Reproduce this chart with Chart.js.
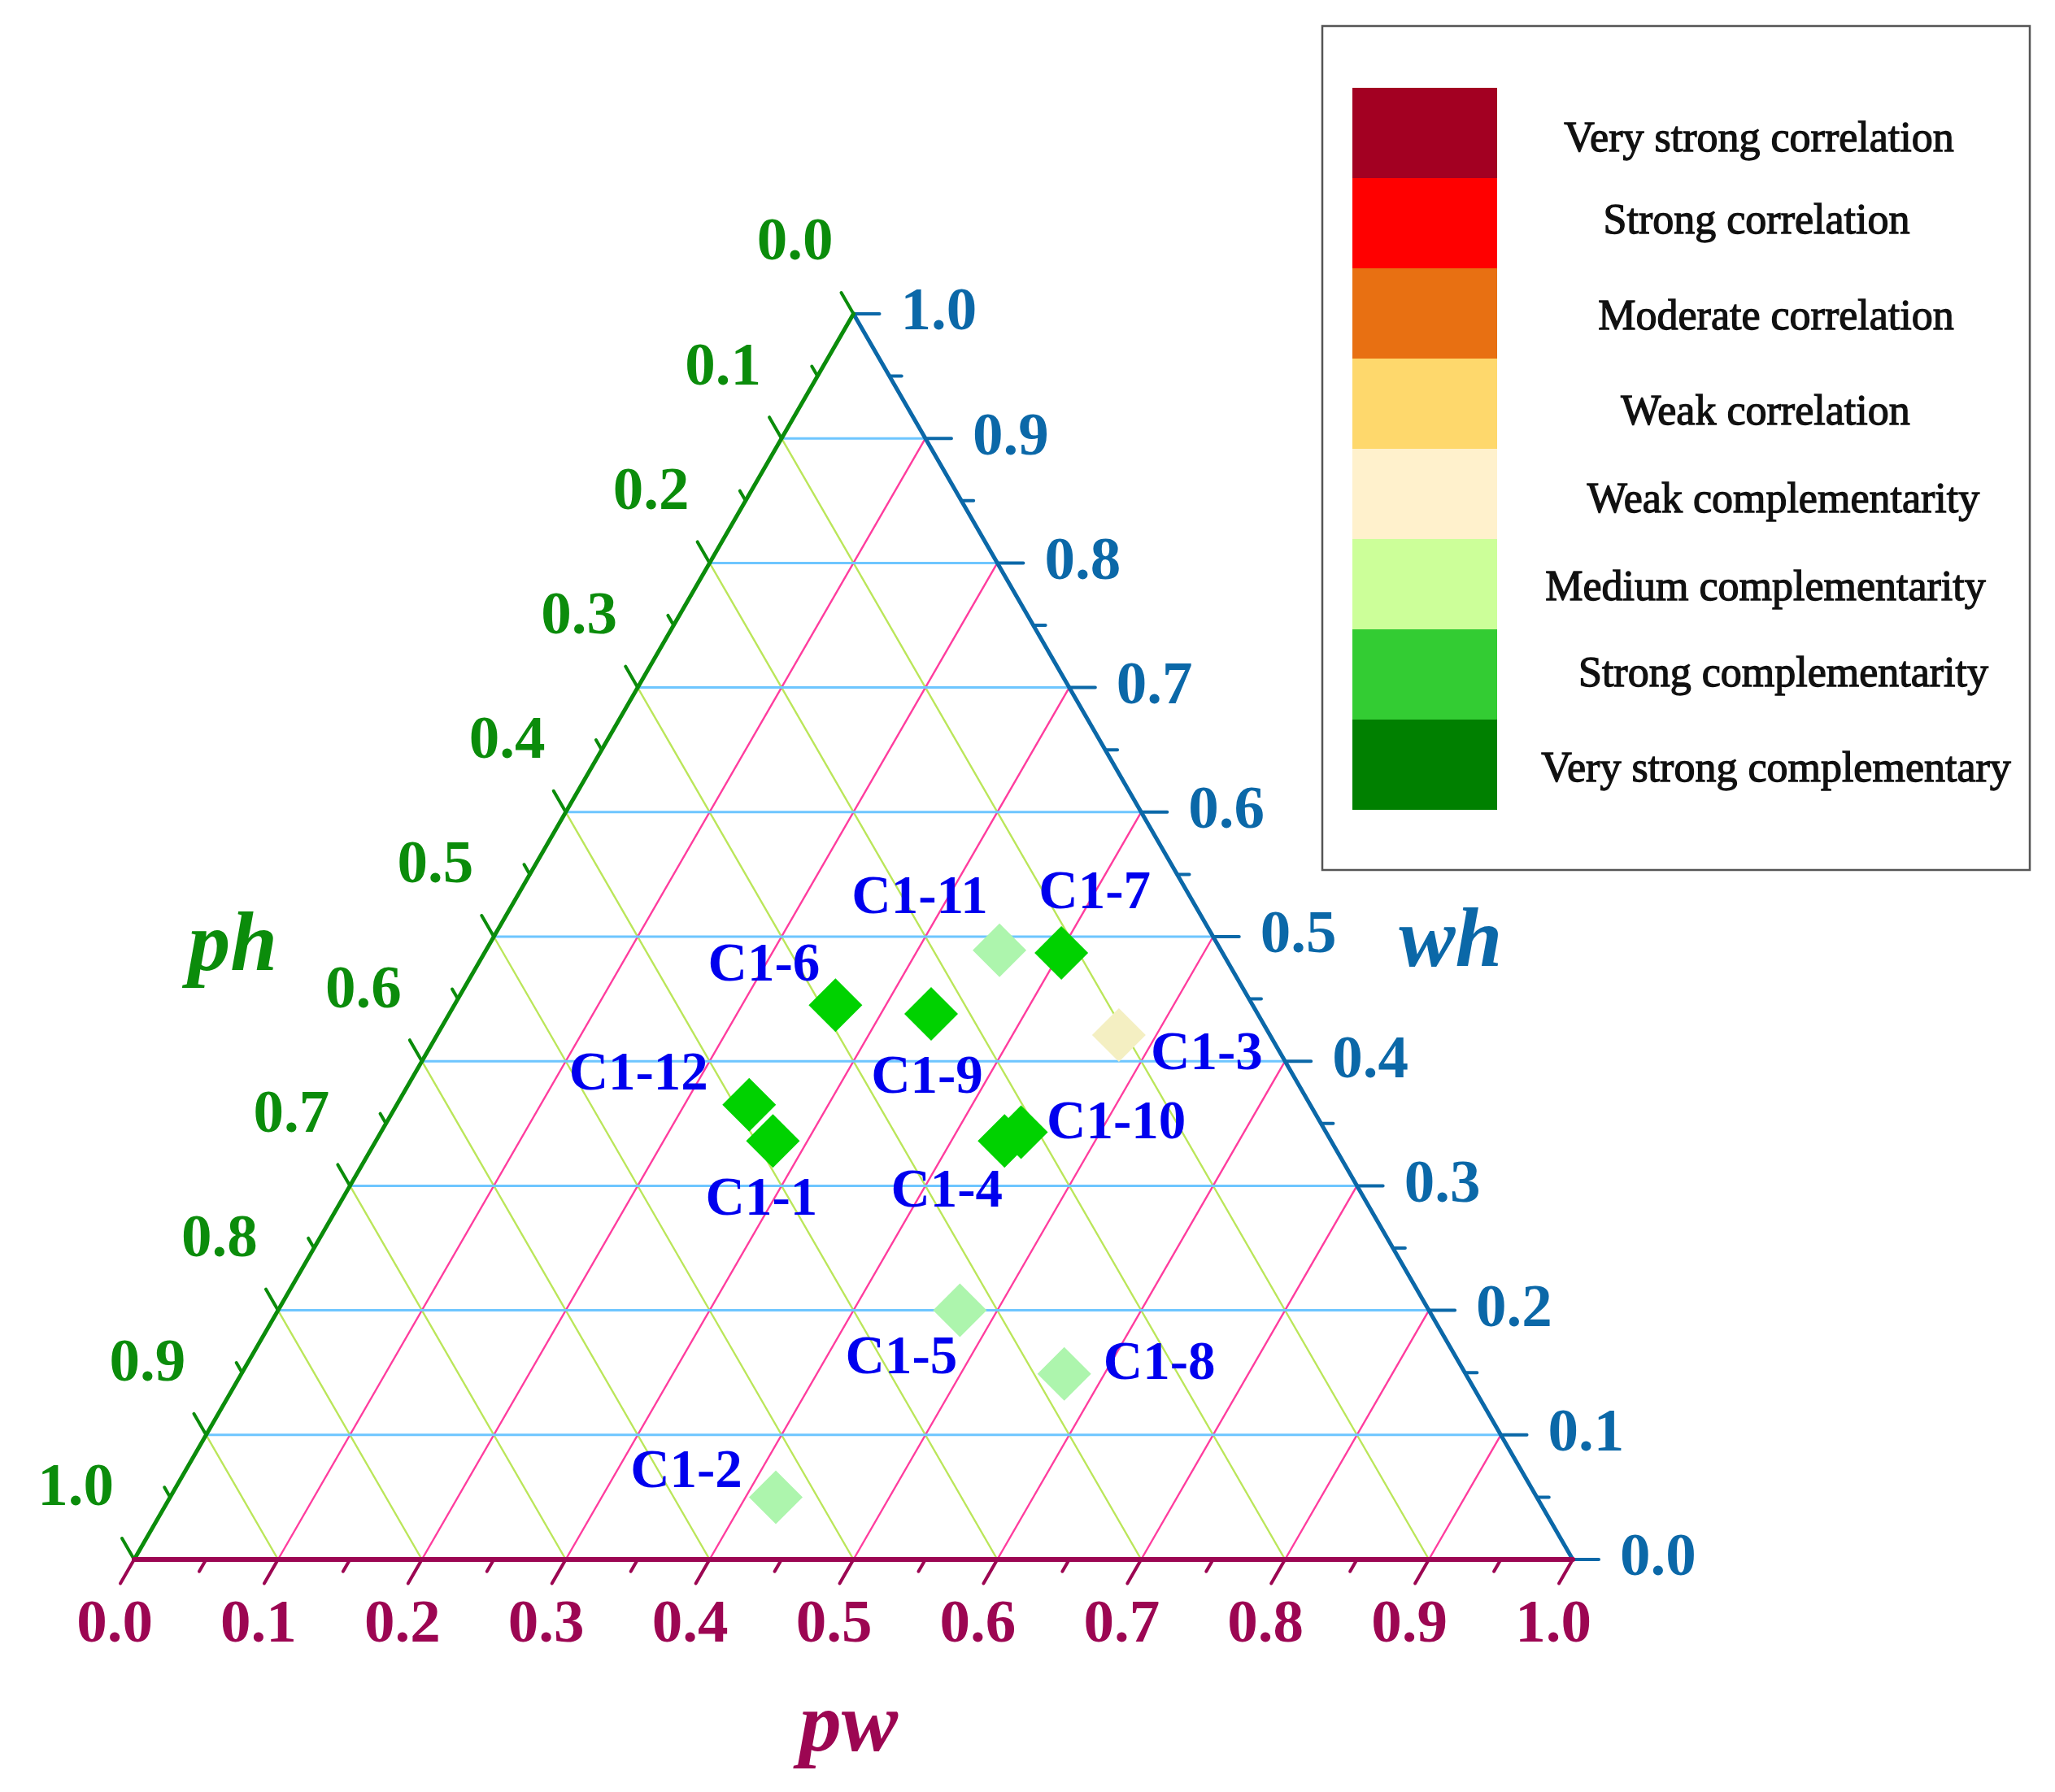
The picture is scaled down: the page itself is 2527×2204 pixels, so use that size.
<!DOCTYPE html>
<html>
<head>
<meta charset="utf-8">
<title>Ternary complementarity chart</title>
<script src="https://cdn.jsdelivr.net/npm/chart.js@4.4.1/dist/chart.umd.min.js"></script>
<style>
  html, body { margin: 0; padding: 0; background: #fff; overflow: hidden; }
  #wrap { width: 2527px; height: 2204px; position: relative; }
</style>
</head>
<body>
<div id="wrap"><canvas id="ternary"></canvas></div>
<script>
// sample values (pw + ph + wh = 1)
const samples  = ["C1-1", "C1-2", "C1-3", "C1-4", "C1-5", "C1-6", "C1-7", "C1-8", "C1-9", "C1-10", "C1-11", "C1-12"];
const pwValues = [0.276, 0.421, 0.474, 0.437, 0.474, 0.265, 0.401, 0.572, 0.335, 0.445, 0.357, 0.245];
const phValues = [0.388, 0.529, 0.105, 0.227, 0.326, 0.290, 0.112, 0.279, 0.227, 0.212, 0.154, 0.390];
const whValues = [0.336, 0.050, 0.421, 0.336, 0.200, 0.445, 0.487, 0.149, 0.438, 0.343, 0.489, 0.365];
const grades   = ["strong", "medium", "weak", "strong", "medium", "strong", "strong", "medium", "strong", "strong", "medium", "strong"];

const tickValues = [0.0, 0.1, 0.2, 0.3, 0.4, 0.5, 0.6, 0.7, 0.8, 0.9, 1.0];
const tickLabels = ["0.0", "0.1", "0.2", "0.3", "0.4", "0.5", "0.6", "0.7", "0.8", "0.9", "1.0"];
const minorTicks = [0.05, 0.15, 0.25, 0.35, 0.45, 0.55, 0.65, 0.75, 0.85, 0.95];

const legendLabels = ["Very strong correlation", "Strong correlation", "Moderate correlation", "Weak correlation",
  "Weak complementarity", "Medium complementarity", "Strong complementarity", "Very strong complementary"];
const legendColors = ["#a30022", "#ff0000", "#e87012", "#fed86c", "#fff1cc", "#ccff99", "#33cc33", "#008000"];

// styles
const gradeColors = { strong: "#00d200", medium: "#adf5ad", weak: "#f4efc2" };
const labelOffsets = [[-14, 73], [-110, -30], [108, 25], [-71, 63], [-72, 60], [-88, -48],
  [41, -72], [117, -11], [-5, 80], [117, -10], [-98, -63], [-136, -36]];
const legendTextX = [2163, 2160, 2184, 2171, 2193, 2171, 2193, 2184];
const legendTextDy = [9, -1, 6, 12, 9, 6, 1, 7];

const PH_COLOR = "#0b8c0b", WH_COLOR = "#0b68a8", PW_COLOR = "#9c0652";
const SIDE = 1769, OX = 165, OY = 1918, W = 2527, H = 2204;
const R3 = Math.sqrt(3) / 2;

// ternary (pw, wh) -> cartesian
function cart(pw, wh) { return { x: pw + wh / 2, y: wh * R3 }; }
const GAP = { x: null, y: null };

function lineSet(points, color, width, order) {
  return {
    type: "scatter", data: points, showLine: true, spanGaps: false,
    borderColor: color, borderWidth: width, pointRadius: 0, pointHoverRadius: 0,
    borderCapStyle: "round", order: order, clip: false
  };
}

const whGrid = [], pwGrid = [], phGrid = [];
tickValues.slice(1, -1).forEach(v => {
  whGrid.push(cart(0, v), cart(1 - v, v), GAP);
  pwGrid.push(cart(v, 0), cart(v, 1 - v), GAP);
  phGrid.push(cart(0, 1 - v), cart(1 - v, 0), GAP);
});

function tickSegs(values, len, basePt, dir) {
  const out = [];
  values.forEach(v => {
    const p = basePt(v);
    out.push(p, { x: p.x + dir[0] * len / SIDE, y: p.y + dir[1] * len / SIDE }, GAP);
  });
  return out;
}
const pwBase = v => cart(v, 0);
const phBase = v => cart(0, 1 - v);
const whBase = v => cart(1 - v, v);
const pwTicks = tickSegs(tickValues, 34, pwBase, [-0.5, -R3]).concat(tickSegs(minorTicks, 17, pwBase, [-0.5, -R3]));
const phTicks = tickSegs(tickValues, 30, phBase, [-0.5, R3]).concat(tickSegs(minorTicks, 14, phBase, [-0.5, R3]));
const whTicks = tickSegs(tickValues, 32, whBase, [1, 0]).concat(tickSegs(minorTicks, 15, whBase, [1, 0]));

const samplePoints = samples.map((s, i) => cart(pwValues[i], whValues[i]));

const textPlugin = {
  id: "ternaryText",
  afterDatasetsDraw(chart) {
    const ctx = chart.ctx, xs = chart.scales.x, ys = chart.scales.y;
    const pix = p => [xs.getPixelForValue(p.x), ys.getPixelForValue(p.y)];
    ctx.save();
    ctx.textBaseline = "middle";

    // tick labels
    ctx.font = "bold 75px 'Liberation Serif'";
    tickValues.forEach((v, i) => {
      let [x, y] = pix(pwBase(v));
      ctx.fillStyle = PW_COLOR; ctx.textAlign = "center";
      ctx.fillText(tickLabels[i], x - 24, y + 82);
      [x, y] = pix(phBase(v));
      ctx.fillStyle = PH_COLOR;
      ctx.fillText(tickLabels[i], x - 72, y - 86);
      [x, y] = pix(whBase(v));
      ctx.fillStyle = WH_COLOR; ctx.textAlign = "left";
      ctx.fillText(tickLabels[i], x + 58, y);
    });

    // axis titles
    ctx.font = "italic bold 104px 'Liberation Serif'";
    ctx.textAlign = "center";
    let [x, y] = pix(cart(0, 0.5));
    ctx.fillStyle = PH_COLOR; ctx.fillText("ph", x - 321, y + 14);
    [x, y] = pix(cart(0.5, 0.5));
    ctx.fillStyle = WH_COLOR; ctx.fillText("wh", x + 292, y + 9);
    [x, y] = pix(cart(0.5, 0));
    ctx.fillStyle = PW_COLOR; ctx.fillText("pw", x - 6, y + 208);

    // sample labels
    ctx.font = "bold 67px 'Liberation Serif'";
    ctx.fillStyle = "#0000ee";
    samplePoints.forEach((p, i) => {
      const [px, py] = pix(p);
      ctx.fillText(samples[i], px + labelOffsets[i][0], py + labelOffsets[i][1]);
    });

    // legend box
    ctx.fillStyle = "#fff";
    ctx.fillRect(1626, 32, 870, 1038);
    ctx.strokeStyle = "#555"; ctx.lineWidth = 2.5;
    ctx.strokeRect(1626, 32, 870, 1038);
    const band = 111;
    ctx.font = "52px 'Liberation Serif'";
    ctx.textAlign = "center";
    ctx.lineWidth = 1.3;
    legendLabels.forEach((lab, i) => {
      ctx.fillStyle = legendColors[i];
      ctx.fillRect(1663, 108 + i * band, 178, band);
      const ty = 108 + i * band + band / 2 + legendTextDy[i];
      ctx.fillStyle = "#111"; ctx.strokeStyle = "#111";
      ctx.fillText(lab, legendTextX[i], ty);
      ctx.strokeText(lab, legendTextX[i], ty);
    });
    ctx.restore();
  }
};

new Chart(document.getElementById("ternary"), {
  type: "scatter",
  data: {
    datasets: [
      {
        data: samplePoints,
        pointStyle: "rectRot",
        pointRadius: 33, pointHoverRadius: 33,
        pointBackgroundColor: grades.map(g => gradeColors[g]),
        pointBorderWidth: 0,
        order: 0
      },
      lineSet([cart(0, 0), cart(1, 0)], PW_COLOR, 6, 1),
      lineSet([cart(0, 0), cart(0, 1)], PH_COLOR, 5, 1),
      lineSet([cart(1, 0), cart(0, 1)], WH_COLOR, 5, 1),
      lineSet(pwTicks, PW_COLOR, 4, 2),
      lineSet(phTicks, PH_COLOR, 4, 2),
      lineSet(whTicks, WH_COLOR, 4, 2),
      lineSet(whGrid, "#6ec6ff", 3, 3),
      lineSet(pwGrid, "#ff3d9e", 2.4, 3),
      lineSet(phGrid, "#bbe65a", 2.4, 3)
    ]
  },
  options: {
    responsive: true,
    maintainAspectRatio: false,
    devicePixelRatio: 1,
    animation: false,
    layout: { padding: 0, autoPadding: false },
    scales: {
      x: { type: "linear", display: false, min: -OX / SIDE, max: (W - OX) / SIDE },
      y: { type: "linear", display: false, min: -(H - OY) / SIDE, max: OY / SIDE }
    },
    plugins: { legend: { display: false }, tooltip: { enabled: false } },
    events: []
  },
  plugins: [textPlugin]
});
</script>
</body>
</html>
